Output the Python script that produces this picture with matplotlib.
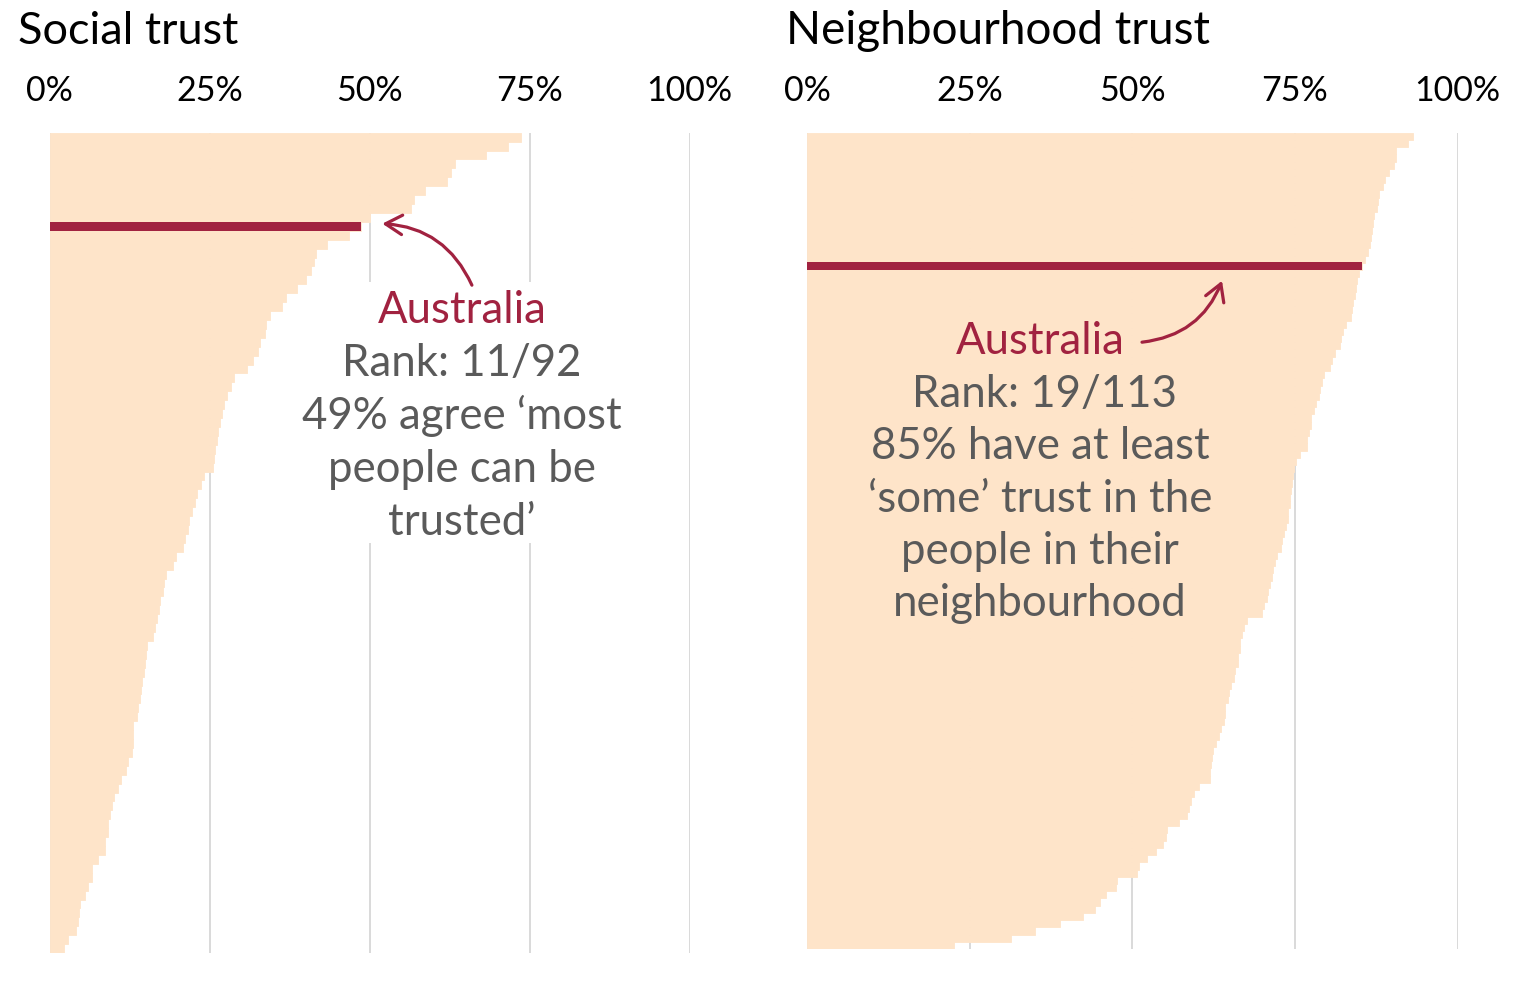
import matplotlib
matplotlib.use("Agg")
import matplotlib.pyplot as plt
from matplotlib.transforms import blended_transform_factory

plt.rcParams['font.family'] = ['Lato', 'DejaVu Sans']

# ---------------- data ----------------
social_trust = [73.7, 71.7, 68.2, 63.4, 62.8, 62.1, 58.6, 57.0, 56.5, 50.0,
                48.7, 46.8, 43.3, 41.6, 41.3, 40.9, 40.1, 38.7, 37.0, 36.4,
                34.5, 33.9, 33.7, 32.9, 32.6, 31.8, 30.9, 28.9, 28.4, 27.7,
                27.2, 26.9, 26.6, 26.3, 26.1, 25.9, 25.7, 25.5, 24.2, 23.6,
                23.0, 22.8, 22.3, 21.8, 21.6, 21.2, 20.8, 19.7, 19.3, 18.2,
                17.9, 17.7, 17.3, 17.1, 16.8, 16.5, 16.1, 15.3, 15.1, 14.9,
                14.8, 14.5, 14.3, 14.1, 13.9, 13.7, 13.1, 13.1, 13.0, 12.9,
                12.3, 12.0, 11.1, 10.7, 10.1, 9.8, 9.5, 9.2, 9.1, 8.6,
                8.6, 7.5, 6.7, 6.6, 6.0, 5.5, 4.8, 4.6, 4.4, 4.2, 2.9, 2.3]
social_aus_rank = 11

neighbourhood_trust = [93.1, 92.4, 90.6, 90.5, 90.2, 89.5, 88.9, 88.5, 88.0, 87.8,
                       87.6, 87.2, 87.0, 86.9, 86.7, 86.5, 86.2, 85.8, 85.3, 84.8,
                       84.6, 84.4, 84.3, 84.0, 83.8, 83.7, 82.8, 82.4, 82.1, 81.9,
                       81.2, 80.7, 80.4, 79.5, 79.2, 78.9, 78.7, 78.3, 77.9, 77.5,
                       77.5, 77.1, 76.9, 76.9, 75.8, 75.1, 74.8, 74.7, 74.6, 74.4,
                       74.3, 74.2, 74.0, 73.9, 73.7, 73.3, 73.0, 72.8, 72.3, 72.0,
                       71.7, 71.5, 71.2, 70.9, 70.7, 70.3, 69.9, 67.6, 67.2, 66.9,
                       66.6, 66.5, 66.3, 66.2, 65.8, 65.6, 65.2, 64.9, 64.7, 64.3,
                       64.2, 64.1, 63.6, 63.4, 62.8, 62.4, 62.3, 62.1, 62.0, 61.9,
                       60.3, 59.5, 59.0, 58.7, 58.4, 57.2, 55.4, 55.2, 54.8, 53.7,
                       52.2, 51.0, 50.7, 47.6, 47.5, 46.0, 45.0, 44.3, 42.5, 38.9,
                       35.1, 31.3, 22.6]
neigh_aus_rank = 19

tick_values = [0, 25, 50, 75, 100]
tick_labels = ['0%', '25%', '50%', '75%', '100%']

titles = ['Social trust', 'Neighbourhood trust']
left_note = ['Rank: 11/92', '49% agree \u2018most', 'people can be', 'trusted\u2019']
right_note = ['Rank: 19/113', '85% have at least', '\u2018some\u2019 trust in the',
              'people in their', 'neighbourhood']

# ---------------- style ----------------
BEIGE = '#FEE4C9'
RED = '#A12240'
GREY = '#5a5a5a'
GRID = '#cfcfcf'
W, H = 1536, 1005
NOTE_FS = 31.5

fig = plt.figure(figsize=(W / 100, H / 100), dpi=100)
fig.patch.set_facecolor('white')


def fx(px):
    return px / W


def fy(py):
    return 1 - py / H


ax1 = fig.add_axes([fx(49.5), fy(953), 640 / W, (953 - 132.7) / H])
ax2 = fig.add_axes([fx(807), fy(949), 650.5 / W, (949 - 132.7) / H])


def draw_panel(ax, values, aus_rank, aus_h, gap=None):
    n = len(values)
    ys = list(range(n))
    ax.barh(ys, values, height=1.0, color=BEIGE, edgecolor=BEIGE,
            linewidth=0.6, zorder=2)
    ax.barh([aus_rank - 1], [values[aus_rank - 1]], height=aus_h,
            color=RED, linewidth=0, zorder=3)
    ax.set_xlim(0, 100)
    ax.set_ylim(n - 0.5, -0.5)
    ax.axis('off')
    for t in tick_values:
        if gap is not None and t in (50, 75):
            ax.vlines(t, -0.5, gap[0], color=GRID, lw=1.1, zorder=1)
            ax.vlines(t, gap[1], n - 0.5, color=GRID, lw=1.1, zorder=1)
        else:
            ax.vlines(t, -0.5, n - 0.5, color=GRID, lw=1.1, zorder=1)
    tr = blended_transform_factory(ax.transData, fig.transFigure)
    for t, lab in zip(tick_values, tick_labels):
        ax.text(t, fy(101), lab, transform=tr, ha='center', va='baseline',
                fontsize=24.5, color='black')


draw_panel(ax1, social_trust, social_aus_rank, 1.0, gap=(16.3, 45.5))
draw_panel(ax2, neighbourhood_trust, neigh_aus_rank, 1.1)

fig.text(fx(18), fy(44), titles[0], ha='left', va='baseline', fontsize=32.5, color='black')
fig.text(fx(786), fy(44), titles[1], ha='left', va='baseline', fontsize=33, color='black')

# left annotation
fig.text(fx(462), fy(323), 'Australia', ha='center', va='baseline', fontsize=NOTE_FS, color=RED)
for i, line in enumerate(left_note):
    fig.text(fx(462), fy(376 + 53 * i), line, ha='center', va='baseline',
             fontsize=NOTE_FS, color=GREY)

# right annotation
fig.text(fx(1040), fy(354), 'Australia', ha='center', va='baseline', fontsize=NOTE_FS, color=RED)
for i, line in enumerate(right_note):
    fig.text(fx(1045 if i == 0 else 1040), fy(407 + 52.3 * i), line, ha='center',
             va='baseline', fontsize=NOTE_FS, color=GREY)

# arrows
aprops = dict(arrowstyle='->,head_length=0.6,head_width=0.35', color=RED, lw=2.3,
              connectionstyle='arc3,rad=0.3', shrinkA=0, shrinkB=0, mutation_scale=20)
a1 = social_aus_rank - 1
ax1.annotate('', xy=(social_trust[a1] + 3.3, a1 - 0.3), xytext=(66.0, 16.6),
             arrowprops=aprops, zorder=5)
a2 = neigh_aus_rank - 1
ax2.annotate('', xy=(63.8, a2 + 2.0), xytext=(51.5, a2 + 10.5),
             arrowprops=aprops, zorder=5)

fig.savefig('out.png', dpi=100, facecolor='white')
